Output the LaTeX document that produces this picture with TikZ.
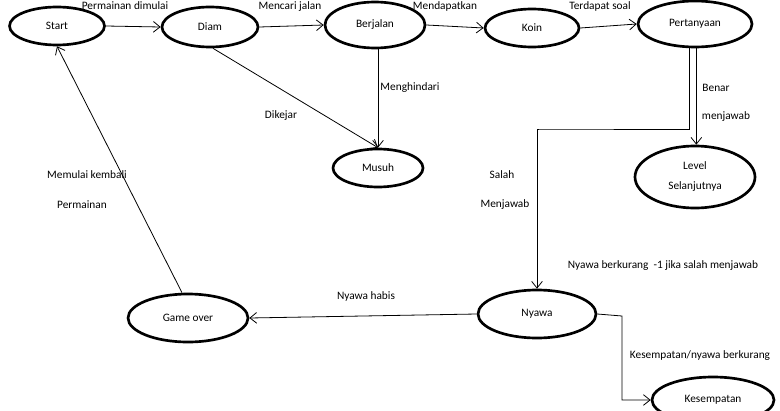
\documentclass[tikz,border=0pt]{standalone}
\usepackage{fontspec}
\setmainfont{Carlito}
\usetikzlibrary{shapes.geometric,arrows.meta}
\begin{document}
\begin{tikzpicture}[x=0.75pt,y=-0.75pt,
  st/.style={ellipse,draw,line width=2pt,inner sep=0pt,font=\fontsize{8.5}{9}\selectfont,align=center},
  conn/.style={draw,line width=0.6pt,-{Straight Barb[length=5pt,width=8pt]}},
  lbl/.style={font=\fontsize{8.5}{9}\selectfont,inner sep=0pt}]
\clip (0,0) rectangle (780,410);
\useasboundingbox (0,0) rectangle (780,410);
\node[st,minimum width=95*0.75pt,minimum height=38*0.75pt] (start) at (57,26) {Start};
\node[st,minimum width=96*0.75pt,minimum height=40*0.75pt] (diam) at (210,27) {Diam};
\node[st,minimum width=100*0.75pt,minimum height=46*0.75pt] (berj) at (375,25) {Berjalan};
\node[st,minimum width=94*0.75pt,minimum height=38*0.75pt] (koin) at (532,28) {Koin};
\node[st,minimum width=114*0.75pt,minimum height=46*0.75pt] (pert) at (695,24) {Pertanyaan};
\node[st,minimum width=90*0.75pt,minimum height=38*0.75pt] (musuh) at (378,168) {Musuh};
\node[st,minimum width=120*0.75pt,minimum height=62*0.75pt] (level) at (695,177) {Level\\[6pt]Selanjutnya};
\node[st,minimum width=118*0.75pt,minimum height=48*0.75pt] (nyawa) at (537,314) {Nyawa};
\node[st,minimum width=120*0.75pt,minimum height=48*0.75pt] (over) at (188,318) {Game over};
\node[st,minimum width=122*0.75pt,minimum height=46*0.75pt] (kes) at (713,400) {Kesempatan};
\draw[conn] (start.east) -- (diam.west);
\draw[conn] (diam.east) -- (berj.west);
\draw[conn] (berj.east) -- (koin.west);
\draw[conn] (koin.east) -- (pert.west);
\draw[conn] (diam.south) ++(3,0) coordinate (d1) -- (musuh.north);
\draw[conn] (musuh.north |- berj.south) -- (musuh.north);
\draw[conn] ([xshift=1pt]pert.south) -- ([xshift=1pt]level.north);
\draw[conn] ([xshift=-4pt]pert.south) |- (540,129) -- (540,129 -| nyawa.north) -- (nyawa.north);
\draw[conn] (nyawa.west) -- (over.east);
\draw[conn] (nyawa.east) -- (622,316) |- (kes.west);
\draw[conn] (over.north) ++(-6,0) -- (start.south);
\node[lbl,anchor=north] at (125,1) {Permainan dimulai};
\node[lbl,anchor=north] at (290,1) {Mencari jalan};
\node[lbl,anchor=north] at (445,1) {Mendapatkan};
\node[lbl,anchor=north] at (600,1) {Terdapat soal};
\node[lbl] at (410,88) {Menghindari};
\node[lbl] at (281,116) {Dikejar};
\node[lbl] at (87,175) {Memulai kembali};
\node[lbl] at (82,205) {Permainan};
\node[lbl] at (716,88) {Benar};
\node[lbl] at (726,117) {menjawab};
\node[lbl] at (502,175) {Salah};
\node[lbl] at (505,205) {Menjawab};
\node[lbl] at (663,266) {Nyawa berkurang\ \ -1 jika salah menjawab};
\node[lbl] at (366,296) {Nyawa habis};
\node[lbl] at (700,356) {Kesempatan/nyawa berkurang};
\end{tikzpicture}
\end{document}
